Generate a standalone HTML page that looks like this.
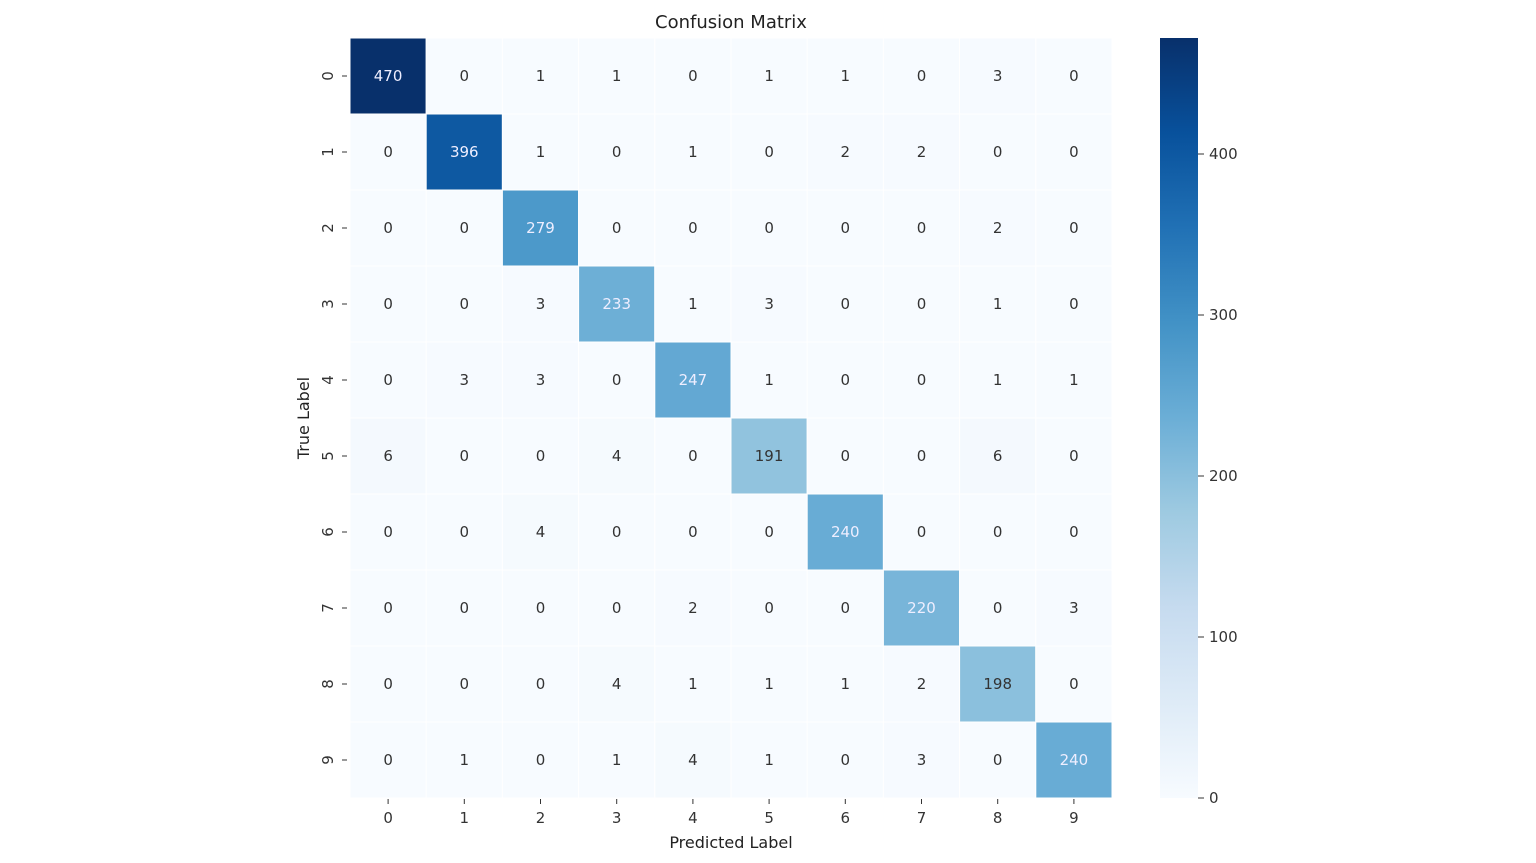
<!DOCTYPE html>
<html><head><meta charset="utf-8">
<style>
html,body{margin:0;padding:0;background:#fff;}
svg{display:block;font-family:"DejaVu Sans","Liberation Sans",sans-serif;}
</style></head>
<body>
<svg id="s" width="1536" height="863" viewBox="0 0 1536 863" xmlns="http://www.w3.org/2000/svg">
<defs>
<linearGradient id="cb" x1="0" y1="1" x2="0" y2="0">
<stop offset="0" stop-color="#f7fbff"/><stop offset="0.125" stop-color="#deebf7"/>
<stop offset="0.25" stop-color="#c6dbef"/><stop offset="0.375" stop-color="#9ecae1"/>
<stop offset="0.5" stop-color="#6baed6"/><stop offset="0.625" stop-color="#4292c6"/>
<stop offset="0.75" stop-color="#2171b5"/><stop offset="0.875" stop-color="#08519c"/>
<stop offset="1" stop-color="#08306b"/>
</linearGradient>
</defs>
<text x="731" y="28" font-size="18" text-anchor="middle" fill="#222">Confusion Matrix</text>
<g id="cells"></g>
<rect x="1160" y="38" width="38" height="760" fill="url(#cb)"/>
<g id="cbt" font-size="15" fill="#333"></g>
<text x="731" y="848" font-size="16" text-anchor="middle" fill="#222">Predicted Label</text>
<text transform="translate(309,418) rotate(-90)" font-size="16" text-anchor="middle" fill="#222">True Label</text>
</svg>
<script>
var M=[[470,0,1,1,0,1,1,0,3,0],[0,396,1,0,1,0,2,2,0,0],[0,0,279,0,0,0,0,0,2,0],[0,0,3,233,1,3,0,0,1,0],[0,3,3,0,247,1,0,0,1,1],[6,0,0,4,0,191,0,0,6,0],[0,0,4,0,0,0,240,0,0,0],[0,0,0,0,2,0,0,220,0,3],[0,0,0,4,1,1,1,2,198,0],[0,1,0,1,4,1,0,3,0,240]];
var st=["#f7fbff","#deebf7","#c6dbef","#9ecae1","#6baed6","#4292c6","#2171b5","#08519c","#08306b"];
function h(c){return [parseInt(c.substr(1,2),16),parseInt(c.substr(3,2),16),parseInt(c.substr(5,2),16)];}
function col(v){var t=v/470*8;var i=Math.min(7,Math.floor(t));var f=t-i;var a=h(st[i]),b=h(st[i+1]);
return "rgb("+a.map(function(x,k){return Math.round(x+(b[k]-x)*f);}).join(",")+")";}
var L=350,T=38,W=76.2,H=76;var s="";
for(var r=0;r<10;r++)for(var c=0;c<10;c++){var v=M[r][c];
s+='<rect x="'+(L+c*W)+'" y="'+(T+r*H)+'" width="'+W+'" height="'+H+'" fill="'+col(v)+'" stroke="#fff" stroke-width="1"/>';
s+='<text x="'+(L+c*W+W/2)+'" y="'+(T+r*H+H/2+5)+'" font-size="15" text-anchor="middle" fill="'+(v>210?"#eef":"#333")+'">'+v+'</text>';}
for(var i=0;i<10;i++){var cx=L+i*W+W/2,cy=T+i*H+H/2;
s+='<line x1="'+cx+'" y1="799" x2="'+cx+'" y2="804" stroke="#333"/>';
s+='<text x="'+cx+'" y="823" font-size="15" text-anchor="middle" fill="#333">'+i+'</text>';
s+='<line x1="342" y1="'+cy+'" x2="347" y2="'+cy+'" stroke="#333"/>';
s+='<text transform="translate(333,'+cy+') rotate(-90)" font-size="15" text-anchor="middle" fill="#333">'+i+'</text>';}
document.getElementById("cells").innerHTML=s;
var t="";[0,100,200,300,400].forEach(function(v){var y=798-v*1.61;
t+='<line x1="1198" y1="'+y+'" x2="1204" y2="'+y+'" stroke="#333"/><text x="1209" y="'+(y+5)+'">'+v+'</text>';});
document.getElementById("cbt").innerHTML=t;
</script>
</body></html>
